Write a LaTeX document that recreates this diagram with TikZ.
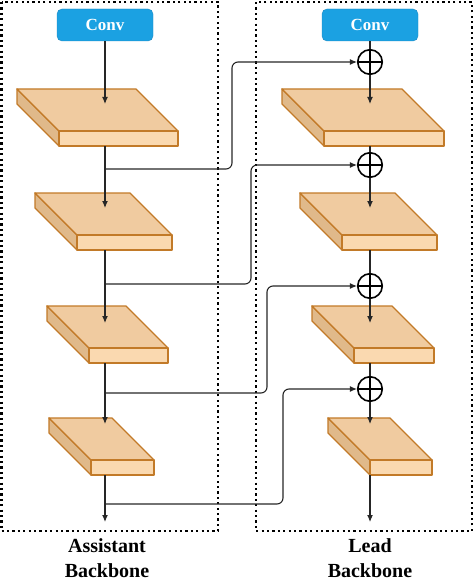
\documentclass[tikz,border=0pt]{standalone}
\usepackage{fontspec}
\setmainfont{Liberation Serif}
\usepackage{tikz}
\usetikzlibrary{arrows.meta}
\definecolor{convblue}{HTML}{1BA1E2}
\definecolor{convedge}{HTML}{1C88C2}
\definecolor{slabedge}{HTML}{C27A28}
\definecolor{slabtop}{HTML}{F0CBA0}
\definecolor{slabfront}{HTML}{FAD9B0}
\definecolor{slabside}{HTML}{E0B98A}
\definecolor{linegray}{HTML}{262626}
\tikzset{
	conv/.style={rectangle,rounded corners=5pt,draw=convedge,fill=convblue,text=white,font=\fontsize{17}{17}\selectfont\bfseries,minimum width=96pt,minimum height=32pt,inner sep=0pt},
	plus/.style={circle,draw=black,line width=1.6pt,minimum size=24.5pt,inner sep=0pt,path picture={\draw[line width=1.4pt] (path picture bounding box.north) -- (path picture bounding box.south) (path picture bounding box.west) -- (path picture bounding box.east);}},
	topface/.style={draw=slabedge,fill=slabtop,line width=1.4pt,line join=round},
	frontface/.style={draw=slabedge,fill=slabfront,line width=1.4pt,line join=round},
	sideface/.style={draw=slabedge,fill=slabside,line width=1.4pt,line join=round},
	plain/.style={draw=linegray,line width=1.1pt},
	link/.style={draw=linegray,line width=1.1pt,-{Latex[length=7pt,width=6pt]}},
	box/.style={draw=black,line width=2.2pt,dash pattern=on 2.2pt off 3.2pt},
	title/.style={align=center,font=\fontsize{20}{25}\selectfont\bfseries}
}
\begin{document}
\begin{tikzpicture}[x=1pt,y=-1pt]
	\useasboundingbox (0,0) rectangle (474,583);
	\draw[box] (1.5,2) rectangle (218,531);
	\draw[box] (256,2) rectangle (472,531);

	\foreach \n/\x/\y/\w/\d/\c in {a1/17/89/119/15/105,a2/35/193/95/15/105,a3/47/306/79/17/105,a4/49/418/63/6/105,b1/282/89/120/15/370,b2/300/193/95/15/370,b3/312/306/80/17/370,b4/328/418/62/6/370}{
		\filldraw[sideface] (\x,\y) -- ++(42,42) -- ++(0,15) -- ++(-42,-42) -- cycle;
		\filldraw[topface] (\x,\y) -- ++(\w,0) -- ++(42,42) -- ++(-\w,0) -- cycle;
		\filldraw[frontface] ({\x+42},{\y+42}) rectangle ++(\w,15);
		\coordinate (\n-t) at (\c,{\y+\d});
		\coordinate (\n-b) at (\c,{\y+57});
	}

	\node [conv] (c1) at (105,25) {Conv};
	\node [conv] (c2) at (370,25) {Conv};
	\node [plus] (p1) at (370,62) {};
	\node [plus] (p2) at (370,165) {};
	\node [plus] (p3) at (370,286) {};
	\node [plus] (p4) at (370,389) {};
	\coordinate (j1) at (105,169);
	\coordinate (j2) at (105,284);
	\coordinate (j3) at (105,393);
	\coordinate (j4) at (105,504);
	\coordinate (aend) at (105,522);
	\coordinate (bend) at (370,522);

	\draw[link] (c1) -- (a1-t);
	\draw[link] (a1-b) -- (a2-t);
	\draw[link] (a2-b) -- (a3-t);
	\draw[link] (a3-b) -- (a4-t);
	\draw[link] (a4-b) -- (aend);

	\draw[plain] (c2) -- (p1);
	\draw[link] (p1) -- (b1-t);
	\draw[plain] (b1-b) -- (p2);
	\draw[link] (p2) -- (b2-t);
	\draw[plain] (b2-b) -- (p3);
	\draw[link] (p3) -- (b3-t);
	\draw[plain] (b3-b) -- (p4);
	\draw[link] (p4) -- (b4-t);
	\draw[link] (b4-b) -- (bend);

	\draw[link,rounded corners=6pt] (j1) -- ++(127,0) |- (p1);
	\draw[link,rounded corners=6pt] (j2) -- ++(146,0) |- (p2);
	\draw[link,rounded corners=6pt] (j3) -- ++(162,0) |- (p3);
	\draw[link,rounded corners=6pt] (j4) -- ++(178,0) |- (p4);

	\node [title] (la) at (107,558) {Assistant\\Backbone};
	\node [title] (lb) at (370,558) {Lead\\Backbone};
\end{tikzpicture}
\end{document}
